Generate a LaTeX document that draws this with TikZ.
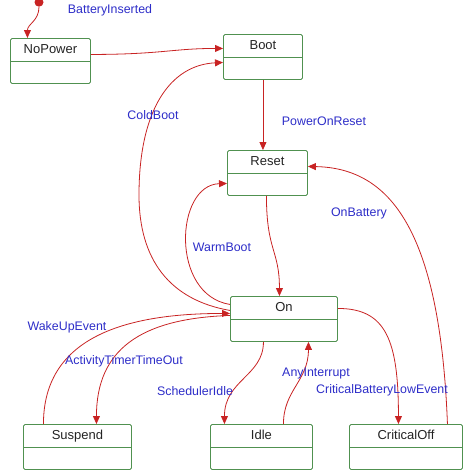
\documentclass[tikz,border=0pt]{standalone}
\usepackage{fontspec}
\setmainfont{Liberation Sans}
\usetikzlibrary{arrows.meta}
\definecolor{boxgreen}{RGB}{80,145,80}
\definecolor{edgered}{RGB}{200,35,35}
\definecolor{lblblue}{RGB}{45,45,200}
\definecolor{titlegray}{RGB}{35,35,35}
\begin{document}
\begin{tikzpicture}[x=1pt,y=-1pt,
 state/.style={draw=boxgreen, line width=0.9pt, rounded corners=1.5pt, anchor=north west,
   inner xsep=0pt, inner ysep=0pt, text height=15pt, text depth=30pt, minimum height=45pt,
   font=\fontsize{13}{15}\selectfont, text=titlegray,
   path picture={\draw[boxgreen, line width=0.9pt] (path picture bounding box.west) -- (path picture bounding box.east);}},
 edge/.style={draw=edgered, line width=0.8pt, -{Triangle[length=8pt,width=7pt]}},
 lbl/.style={text=lblblue, font=\fontsize{12.4}{14}\selectfont, inner sep=0pt}]
\useasboundingbox (0,0) rectangle (474,474);
% states
\node[state, minimum width=80pt] (NoPower) at (10,38) {NoPower};
\node[state, minimum width=79pt] (Boot) at (223,34) {Boot};
\node[state, minimum width=80pt] (Reset) at (227,150) {Reset};
\node[state, minimum width=107pt] (On) at (230,296) {On};
\node[state, minimum width=108pt] (Suspend) at (23,424) {Suspend};
\node[state, minimum width=102pt] (Idle) at (210,424) {Idle};
\node[state, minimum width=113pt] (CriticalOff) at (349,424) {CriticalOff};
\node[circle, fill=edgered, inner sep=0pt, minimum size=9pt] (init) at (39,2.2) {};
% transitions
\draw[edge] (init.south) .. controls +(0,14) and +(0,-14) .. ([xshift=-23pt]NoPower.north);
\draw[edge] ([yshift=6.5pt]NoPower.east) .. controls +(70,0) and +(-50,0) .. ([yshift=8.5pt]Boot.west);
\draw[edge] ([yshift=8.5pt]On.west) .. controls (170,300) and (139,260) .. (139,195) .. controls (139,110) and (170,65) .. ([yshift=-5.5pt]Boot.west);
\draw[edge] (Boot.south) -- (Boot.south |- Reset.north);
\draw[edge] ([xshift=-1pt]Reset.south) .. controls +(0,55) and +(0,-46) .. ([xshift=-4.5pt]On.north);
\draw[edge] ([yshift=14.5pt]On.west) .. controls (170,295) and (175,185) .. ([yshift=-10.5pt]Reset.west);
\draw[edge] ([xshift=41.5pt]CriticalOff.north) .. controls (440,230) and (390,168) .. ([yshift=6.5pt]Reset.east);
\draw[edge] ([yshift=10.5pt]On.east) .. controls +(48,0) and +(0,-84) .. ([xshift=-7.5pt]CriticalOff.north);
\draw[edge] ([xshift=-20.5pt]On.south) .. controls +(0,34) and +(0,-44) .. ([xshift=-37pt]Idle.north);
\draw[edge] ([xshift=22pt]Idle.north) .. controls +(0,-34) and +(0,39) .. ([xshift=24.5pt]On.south);
\draw[edge] ([xshift=-34pt]Suspend.north) .. controls +(0,-84) and +(-110,0) .. ([yshift=5.5pt]On.west);
\draw[edge] ([yshift=3.5pt]On.west) .. controls +(-90,3) and +(0,-74) .. ([xshift=19pt]Suspend.north);
% labels
\node[lbl] (lBattery) at (110,10) {BatteryInserted};
\node[lbl] (lCold) at (153,115) {ColdBoot};
\node[lbl] (lPOR) at (324,121) {PowerOnReset};
\node[lbl] (lOnBat) at (359,213) {OnBattery};
\node[lbl] (lWarm) at (222,247) {WarmBoot};
\node[lbl] (lWake) at (67,327) {WakeUpEvent};
\node[lbl] (lAct) at (124,361) {ActivityTimerTimeOut};
\node[lbl] (lSched) at (195,391) {SchedulerIdle};
\node[lbl] (lAny) at (316,374) {AnyInterrupt};
\node[lbl] (lCrit) at (382,390) {CriticalBatteryLowEvent};
\end{tikzpicture}
\end{document}
